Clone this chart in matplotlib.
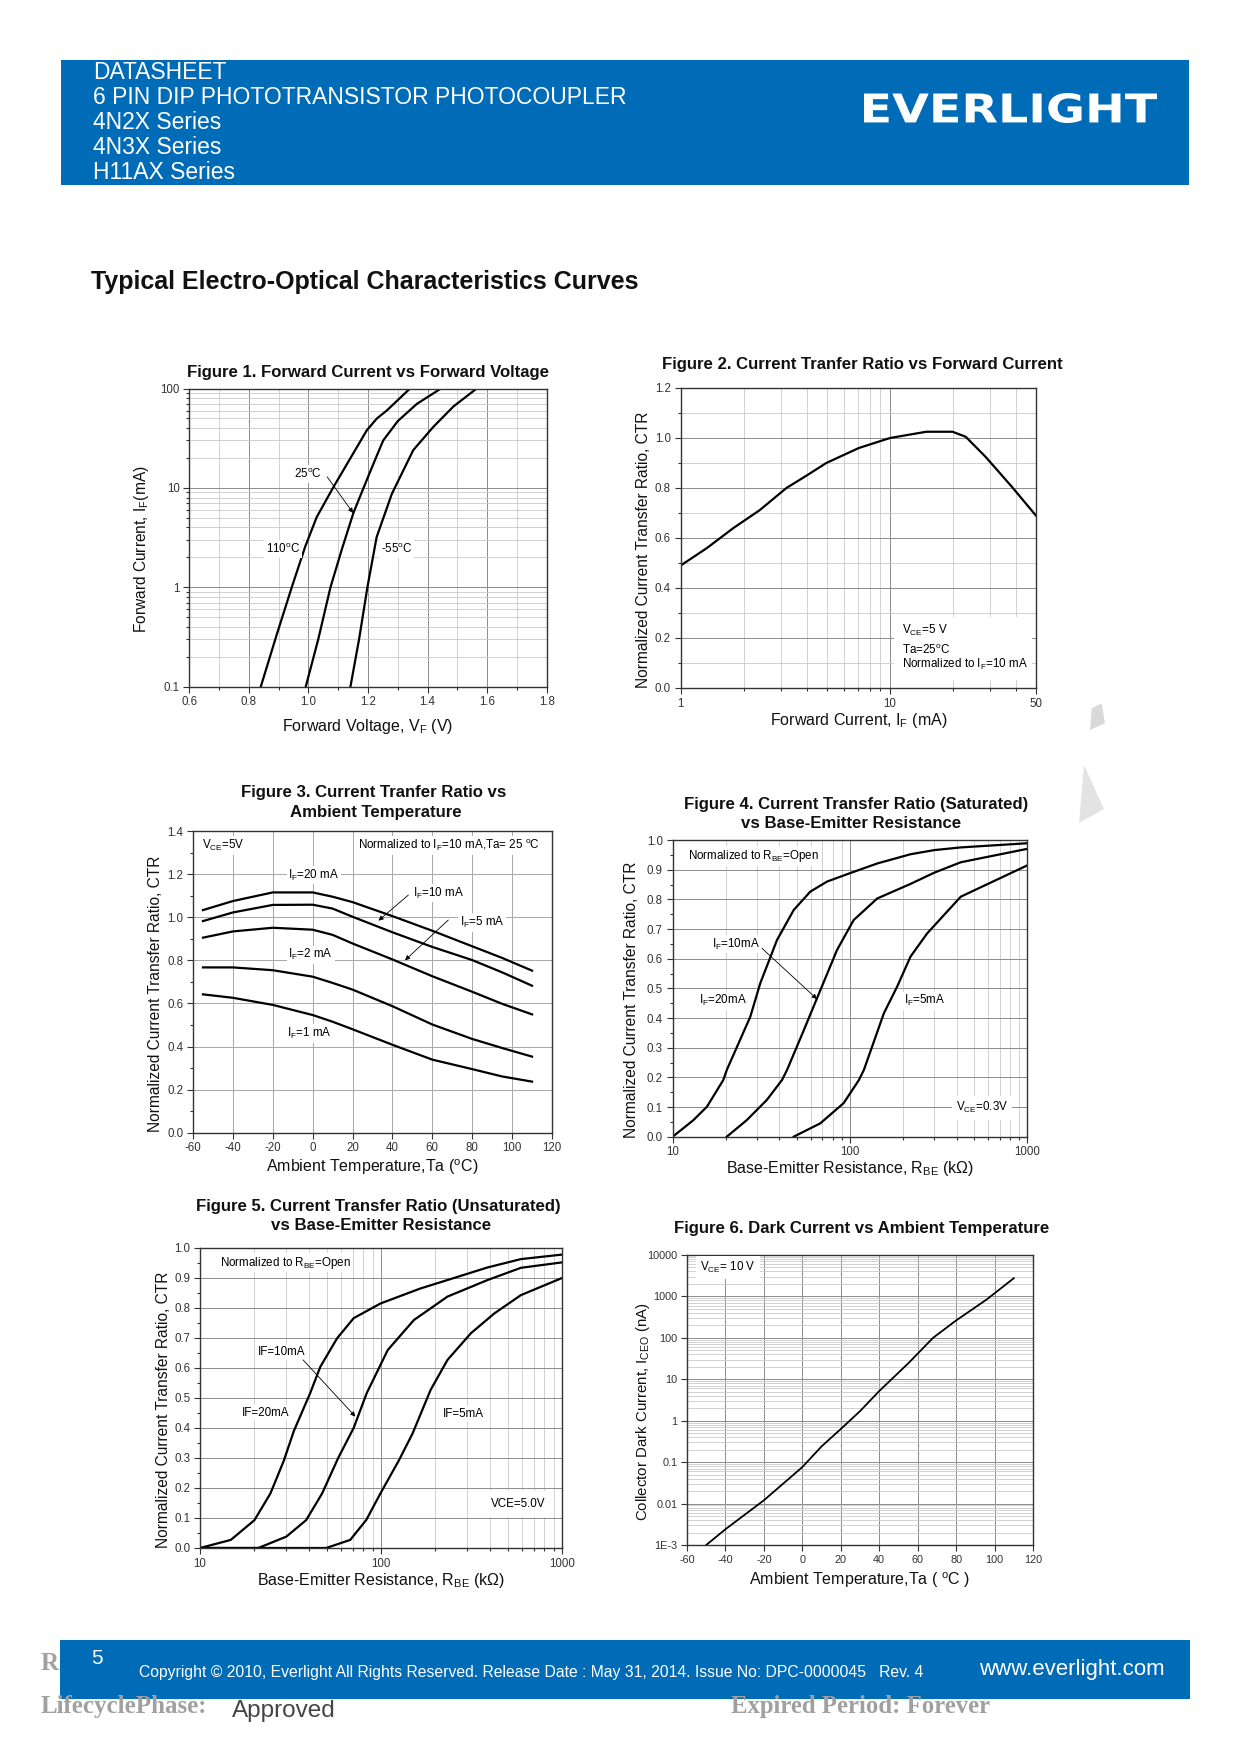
import matplotlib
matplotlib.use('Agg')
import matplotlib.pyplot as plt
import numpy as np
from matplotlib.patches import Rectangle, Polygon, PathPatch
from matplotlib.textpath import TextPath
from matplotlib.font_manager import FontProperties
from matplotlib.transforms import Affine2D
from matplotlib.ticker import FixedLocator, NullFormatter, MultipleLocator, LogLocator

plt.rcParams['font.family'] = ['Liberation Sans', 'DejaVu Sans']
plt.rcParams['mathtext.fontset'] = 'custom'
plt.rcParams['mathtext.rm'] = 'Liberation Sans'
plt.rcParams['mathtext.it'] = 'Liberation Sans:italic'
plt.rcParams['mathtext.bf'] = 'Liberation Sans:bold'
plt.rcParams['mathtext.default'] = 'regular'
plt.rcParams['axes.unicode_minus'] = False

# ---------------- data ----------------
# Fig 1: forward current (mA) vs forward voltage (V)
vf_110 = [0.84, 0.893, 0.944, 0.989, 1.028, 1.084, 1.151, 1.196, 1.23, 1.263, 1.341]
if_110 = [0.1, 0.33, 1.0, 2.56, 5.1, 10.2, 22.4, 38, 50, 60, 100]
vf_25 = [0.991, 1.033, 1.074, 1.112, 1.151, 1.185, 1.22, 1.251, 1.30, 1.364, 1.445]
if_25 = [0.1, 0.3, 1.0, 2.4, 5.6, 10, 18, 30, 47, 70, 100]
vf_m55 = [1.141, 1.170, 1.198, 1.229, 1.28, 1.352, 1.419, 1.487, 1.565]
if_m55 = [0.1, 0.3, 1.0, 3.2, 8.7, 24, 41, 66, 100]

# Fig 2: normalized CTR vs forward current (mA)
if_fig2 = [1, 1.33, 1.78, 2.39, 3.2, 4.0, 4.96, 7.1, 10, 14.9, 19.9, 23.0, 28.6, 38.2, 50]
ctr_fig2 = [0.49, 0.559, 0.639, 0.712, 0.80, 0.85, 0.90, 0.96, 1.00, 1.025, 1.025, 1.005, 0.925, 0.805, 0.688]

# Fig 3: normalized CTR vs ambient temperature
ta_fig3 = [-55, -40, -20, 0, 10, 20, 40, 60, 80, 95, 110]
ctr_if20 = [1.033, 1.075, 1.115, 1.115, 1.095, 1.07, 1.005, 0.937, 0.865, 0.811, 0.752]
ctr_if10 = [0.982, 1.022, 1.057, 1.058, 1.04, 1.002, 0.93, 0.862, 0.801, 0.744, 0.682]
ctr_if5 = [0.905, 0.934, 0.951, 0.942, 0.918, 0.878, 0.804, 0.726, 0.654, 0.598, 0.549]
ctr_if2 = [0.767, 0.767, 0.754, 0.724, 0.695, 0.664, 0.587, 0.502, 0.435, 0.393, 0.353]
ctr_if1 = [0.642, 0.626, 0.593, 0.546, 0.515, 0.48, 0.408, 0.339, 0.295, 0.261, 0.237]

# Fig 4: CTR (saturated) vs base-emitter resistance (kOhm)
rbe4_if20 = [10, 13.1, 15.6, 19.3, 20.2, 27.4, 31.2, 38.8, 48.2, 59.8, 74.4, 100, 143, 220, 300, 423, 1000]
ctr4_if20 = [0, 0.056, 0.101, 0.191, 0.225, 0.404, 0.517, 0.663, 0.764, 0.826, 0.86, 0.888, 0.921, 0.952, 0.966, 0.975, 0.989]
rbe4_if10 = [20.2, 26.2, 34, 41.4, 44.2, 54, 65.2, 84.6, 105, 142.8, 220, 300, 423, 1000]
ctr4_if10 = [0, 0.056, 0.124, 0.191, 0.225, 0.348, 0.466, 0.629, 0.73, 0.803, 0.852, 0.89, 0.925, 0.97]
rbe4_if5 = [48.2, 68.1, 92.2, 112.5, 120, 155.6, 185, 220, 273, 423, 1000]
ctr4_if5 = [0, 0.045, 0.113, 0.191, 0.225, 0.416, 0.506, 0.607, 0.685, 0.809, 0.914]

# Fig 5: CTR (unsaturated) vs base-emitter resistance (kOhm)
rbe5_if20 = [10, 14.8, 20, 24.5, 29, 33, 40.6, 46.2, 57.2, 70.6, 99.3, 165, 253, 387, 593, 1000]
ctr5_if20 = [0, 0.027, 0.093, 0.182, 0.29, 0.39, 0.516, 0.604, 0.699, 0.766, 0.815, 0.865, 0.9, 0.935, 0.963, 0.978]
rbe5_if10 = [10, 21, 30, 38.6, 47.3, 58, 70.6, 83.5, 109, 152, 233, 387, 593, 1000]
ctr5_if10 = [0, 0, 0.038, 0.093, 0.182, 0.30, 0.40, 0.517, 0.66, 0.76, 0.838, 0.893, 0.934, 0.952]
rbe5_if5 = [10, 49.8, 67.6, 82.8, 99.3, 125, 149, 188, 233, 314, 423, 593, 1000]
ctr5_if5 = [0, 0, 0.027, 0.093, 0.182, 0.29, 0.38, 0.527, 0.627, 0.716, 0.782, 0.843, 0.90]

# Fig 6: collector dark current (nA) vs ambient temperature
ta_fig6 = [-50, -40, -20, 0, 10, 20, 30, 40, 55, 68, 80, 96, 110]
iceo_fig6 = [1.0e-3, 2.4e-3, 1.2e-2, 7.6e-2, 0.24, 0.63, 1.7, 5.2, 24, 100, 263, 850, 2750]

header_lines = ['DATASHEET', '6 PIN DIP PHOTOTRANSISTOR PHOTOCOUPLER',
                '4N2X Series', '4N3X Series', 'H11AX Series']
footer_text = ('Copyright \u00a9 2010, Everlight All Rights Reserved. Release Date : May 31, 2014. '
               'Issue No: DPC-0000045   Rev. 4')

# ---------------- page ----------------
W, H = 1240, 1754
BLUE = '#006bb6'
fig = plt.figure(figsize=(W / 100, H / 100), dpi=100)
pg = fig.add_axes([0, 0, 1, 1])
pg.set_xlim(0, W)
pg.set_ylim(H, 0)
pg.axis('off')

pg.add_patch(Rectangle((61, 60), 1128, 125, color=BLUE, lw=0))
for i, s in enumerate(header_lines):
    pg.text(93, 72.5 + 24.9 * i, s, color='white', fontsize=16.5, va='center', ha='left')

# logo, stretched to the box it fills on the page
tp = TextPath((0, 0), 'EVERLIGHT', size=10, prop=FontProperties(family='DejaVu Sans', weight='bold'))
ext = tp.get_extents()
tr = Affine2D().translate(-ext.x0, -ext.y0).scale(293 / ext.width, -30 / ext.height).translate(864, 123)
pg.add_patch(PathPatch(tr.transform_path(tp), color='white', lw=0))

pg.text(91, 282, 'Typical Electro-Optical Characteristics Curves', fontsize=18,
        fontweight='bold', va='center', ha='left', color='#111')

# faint scan marks on the right margin
pg.add_patch(Polygon([(1091.7, 708.3), (1101.7, 703.3), (1105, 723.3), (1090, 730)], color='#d9d9d9', lw=0))
pg.add_patch(Polygon([(1084, 765), (1104, 809), (1079, 823)], color='#e3e3e3', lw=0))

# footer
serif = ['Liberation Serif', 'DejaVu Serif']
pg.text(41, 1663, 'R', fontsize=18, family=serif, fontweight='bold', color='#a0a0a0', va='center')
pg.add_patch(Rectangle((60, 1640), 1130, 59, color=BLUE, lw=0))
pg.text(97, 1659, '5', color='white', fontsize=15, va='center', ha='center')
pg.text(139, 1672, footer_text, color='white', fontsize=11.3, va='center', ha='left')
pg.text(1165, 1670, 'www.everlight.com', color='white', fontsize=16, va='center', ha='right')
pg.text(41, 1707, 'LifecyclePhase:', fontsize=18, family=serif, fontweight='bold', color='#a0a0a0', va='center')
pg.text(232, 1711, 'Approved', fontsize=17.5, color='#454545', va='center')
pg.text(731, 1707, 'Expired Period: Forever', fontsize=17.8, family=serif, fontweight='bold',
        color='#a0a0a0', va='center')

# figure titles
TSZ = 12.1
titles = [((368, 372), 'Figure 1. Forward Current vs Forward Voltage'),
          ((862, 365), 'Figure 2. Current Tranfer Ratio vs Forward Current'),
          ((374, 792), 'Figure 3. Current Tranfer Ratio vs'),
          ((376, 813), 'Ambient Temperature'),
          ((856, 804), 'Figure 4. Current Transfer Ratio (Saturated)'),
          ((851, 824), 'vs Base-Emitter Resistance'),
          ((378, 1206), 'Figure 5. Current Transfer Ratio (Unsaturated)'),
          ((381, 1226), 'vs Base-Emitter Resistance'),
          ((862, 1229), 'Figure 6. Dark Current vs Ambient Temperature')]
for (x, y), s in titles:
    pg.text(x, y, s, fontsize=TSZ, fontweight='bold', ha='center', va='center', color='#111')


def frame(bx):
    x0, y0, x1, y1 = bx
    ax = fig.add_axes([x0 / W, 1 - y1 / H, (x1 - x0) / W, (y1 - y0) / H])
    for sp in ax.spines.values():
        sp.set_color('#333333')
        sp.set_linewidth(1.0)
    ax.set_axisbelow(True)
    ax.tick_params(which='both', colors='#333333', labelcolor='#333333', labelsize=8.3, width=0.8, pad=3)
    ax.tick_params(which='major', length=4, direction='out')
    ax.tick_params(which='minor', length=2.5, direction='out')
    return ax


def axis_labels(ax, bx, xlabel, xl_y, ylabel, yl_x, ysz=11.2):
    x0, y0, x1, y1 = bx
    ax.set_xlabel(xlabel, fontsize=11.5, va='center', color='#111')
    ax.xaxis.set_label_coords(0.5, -(xl_y - y1) / (y1 - y0))
    ax.set_ylabel(ylabel, fontsize=ysz, va='center', color='#111')
    ax.yaxis.set_label_coords((yl_x - x0) / (x1 - x0), 0.46)


GMAJ = dict(color='#8c8c8c', lw=0.7)
GMIN = dict(color='#cacaca', lw=0.6)
CURVE = dict(color='black', lw=1.6, solid_joinstyle='round')
NOTE = 8.4
WBOX = dict(facecolor='white', edgecolor='none', pad=1.2)
ARROW = dict(arrowstyle='-|>', lw=0.6, color='black', mutation_scale=7, shrinkA=0, shrinkB=0)

# ---------------- Figure 1 ----------------
b1 = (189.3, 388.5, 546.7, 686.7)
ax1 = frame(b1)
ax1.set_yscale('log')
ax1.set_xlim(0.6, 1.8)
ax1.set_ylim(0.1, 100)
ax1.set_xticks([0.6, 0.8, 1.0, 1.2, 1.4, 1.6, 1.8], ['0.6', '0.8', '1.0', '1.2', '1.4', '1.6', '1.8'])
ax1.xaxis.set_minor_locator(MultipleLocator(0.1))
ax1.set_yticks([0.1, 1, 10, 100], ['0.1', '1', '10', '100'])
ax1.yaxis.set_minor_locator(LogLocator(base=10, subs=np.arange(2, 10)))
ax1.yaxis.set_minor_formatter(NullFormatter())
ax1.grid(which='major', **GMAJ)
ax1.grid(which='minor', **GMIN)
ax1.plot(vf_110, if_110, **CURVE)
ax1.plot(vf_25, if_25, **CURVE)
ax1.plot(vf_m55, if_m55, **CURVE)
ax1.text(0.999, 13.8, '25$^o$C', fontsize=NOTE, ha='center', va='center', bbox=WBOX)
ax1.text(0.915, 2.43, '110$^o$C', fontsize=NOTE, ha='center', va='center', bbox=WBOX)
ax1.text(1.297, 2.43, '-55$^o$C', fontsize=NOTE, ha='center', va='center', bbox=WBOX)
ax1.annotate('', xy=(1.15, 5.6), xytext=(1.063, 12.9), arrowprops=ARROW)
axis_labels(ax1, b1, 'Forward Voltage, V$_F$ (V)', 726, 'Forward Current, I$_F$(mA)', 141.7)

# ---------------- Figure 2 ----------------
b2 = (680.7, 388, 1036.3, 688)
ax2 = frame(b2)
ax2.set_xscale('log')
ax2.set_xlim(1, 50)
ax2.set_ylim(0, 1.2)
ax2.set_xticks([1, 10, 50], ['1', '10', '50'])
ax2.xaxis.set_minor_locator(FixedLocator([2, 3, 4, 5, 6, 7, 8, 9, 20, 30, 40]))
ax2.xaxis.set_minor_formatter(NullFormatter())
ax2.set_yticks(np.arange(0, 1.21, 0.2), ['0.0', '0.2', '0.4', '0.6', '0.8', '1.0', '1.2'])
ax2.yaxis.set_minor_locator(MultipleLocator(0.1))
ax2.grid(which='major', **GMAJ)
ax2.grid(which='minor', **GMIN)
ax2.add_patch(Rectangle((10.5, 0.032), 37.1, 0.252, facecolor='white', edgecolor='none', zorder=1.5))
ax2.plot(if_fig2, ctr_fig2, **CURVE)
ax2.text(11.45, 0.232, 'V$_{CE}$=5 V', fontsize=NOTE, ha='left', va='center')
ax2.text(11.45, 0.152, 'Ta=25$^o$C', fontsize=NOTE, ha='left', va='center')
ax2.text(11.45, 0.094, 'Normalized to I$_F$=10 mA', fontsize=NOTE, ha='left', va='center')
axis_labels(ax2, b2, 'Forward Current, I$_F$ (mA)', 720, 'Normalized Current Transfer Ratio, CTR', 643)

# ---------------- Figure 3 ----------------
b3 = (193, 831, 552, 1132.7)
ax3 = frame(b3)
ax3.set_xlim(-60, 120)
ax3.set_ylim(0, 1.4)
ax3.set_xticks(np.arange(-60, 121, 20))
ax3.set_yticks(np.arange(0, 1.41, 0.2), ['0.0', '0.2', '0.4', '0.6', '0.8', '1.0', '1.2', '1.4'])
ax3.yaxis.set_minor_locator(MultipleLocator(0.1))
ax3.grid(which='major', color='#a8a8a8', lw=0.7)
for c in (ctr_if20, ctr_if10, ctr_if5, ctr_if2, ctr_if1):
    ax3.plot(ta_fig3, c, **CURVE)
ax3.text(-55.6, 1.333, 'V$_{CE}$=5V', fontsize=NOTE, ha='left', va='center', bbox=WBOX)
ax3.text(22.9, 1.333, 'Normalized to I$_F$=10 mA,Ta= 25 $^o$C', fontsize=NOTE, ha='left', va='center', bbox=WBOX)
ax3.text(-12.2, 1.196, 'I$_F$=20 mA', fontsize=NOTE, ha='left', va='center', bbox=WBOX)
ax3.text(50.5, 1.111, 'I$_F$=10 mA', fontsize=NOTE, ha='left', va='center', bbox=WBOX)
ax3.text(73.9, 0.975, 'I$_F$=5 mA', fontsize=NOTE, ha='left', va='center', bbox=WBOX)
ax3.text(-12.2, 0.825, 'I$_F$=2 mA', fontsize=NOTE, ha='left', va='center', bbox=WBOX)
ax3.text(-13, 0.461, 'I$_F$=1 mA', fontsize=NOTE, ha='left', va='center', bbox=WBOX)
ax3.annotate('', xy=(33, 0.984), xytext=(48, 1.103), arrowprops=ARROW)
ax3.annotate('', xy=(46.3, 0.80), xytext=(68, 0.987), arrowprops=ARROW)
axis_labels(ax3, b3, 'Ambient Temperature,Ta ($^o$C)', 1167, 'Normalized Current Transfer Ratio, CTR', 156)


def rbe_axes(bx):
    ax = frame(bx)
    ax.set_xscale('log')
    ax.set_xlim(10, 1000)
    ax.set_ylim(0, 1.0)
    ax.set_xticks([10, 100, 1000], ['10', '100', '1000'])
    ax.xaxis.set_minor_locator(LogLocator(base=10, subs=np.arange(2, 10)))
    ax.xaxis.set_minor_formatter(NullFormatter())
    ax.set_yticks(np.arange(0, 1.01, 0.1), ['%.1f' % v for v in np.arange(0, 1.01, 0.1)])
    ax.yaxis.set_minor_locator(MultipleLocator(0.05))
    ax.grid(which='major', **GMAJ)
    ax.grid(which='minor', axis='x', **GMIN)
    return ax


# ---------------- Figure 4 ----------------
b4 = (672.7, 840, 1027, 1136.7)
ax4 = rbe_axes(b4)
ax4.plot(rbe4_if20, ctr4_if20, **CURVE)
ax4.plot(rbe4_if10, ctr4_if10, **CURVE)
ax4.plot(rbe4_if5, ctr4_if5, **CURVE)
ax4.text(12.2, 0.946, 'Normalized to R$_{BE}$=Open', fontsize=NOTE, ha='left', va='center', bbox=WBOX)
ax4.text(16.6, 0.649, 'I$_F$=10mA', fontsize=NOTE, ha='left', va='center', bbox=WBOX)
ax4.text(14, 0.458, 'I$_F$=20mA', fontsize=NOTE, ha='left', va='center', bbox=WBOX)
ax4.text(202, 0.458, 'I$_F$=5mA', fontsize=NOTE, ha='left', va='center', bbox=WBOX)
ax4.text(396, 0.097, 'V$_{CE}$=0.3V', fontsize=NOTE, ha='left', va='center',
         bbox=dict(facecolor='white', edgecolor='none', pad=3))
ax4.annotate('', xy=(65.2, 0.464), xytext=(31.9, 0.635), arrowprops=ARROW)
axis_labels(ax4, b4, 'Base-Emitter Resistance, R$_{BE}$ (k\u03a9)', 1168,
            'Normalized Current Transfer Ratio, CTR', 632)

# ---------------- Figure 5 ----------------
b5 = (200, 1248, 562, 1548)
ax5 = rbe_axes(b5)
ax5.plot(rbe5_if20, ctr5_if20, **CURVE)
ax5.plot(rbe5_if10, ctr5_if10, **CURVE)
ax5.plot(rbe5_if5, ctr5_if5, **CURVE)
ax5.text(12.9, 0.951, 'Normalized to R$_{BE}$=Open', fontsize=NOTE, ha='left', va='center', bbox=WBOX)
ax5.text(21, 0.652, 'IF=10mA', fontsize=NOTE, ha='left', va='center', bbox=WBOX)
ax5.text(17, 0.451, 'IF=20mA', fontsize=NOTE, ha='left', va='center', bbox=WBOX)
ax5.text(221, 0.447, 'IF=5mA', fontsize=NOTE, ha='left', va='center', bbox=WBOX)
ax5.text(570, 0.147, 'VCE=5.0V', fontsize=NOTE, ha='center', va='center',
         bbox=dict(facecolor='white', edgecolor='none', pad=5))
ax5.annotate('', xy=(72.2, 0.438), xytext=(37.1, 0.627), arrowprops=ARROW)
axis_labels(ax5, b5, 'Base-Emitter Resistance, R$_{BE}$ (k\u03a9)', 1580,
            'Normalized Current Transfer Ratio, CTR', 163)

# ---------------- Figure 6 ----------------
b6 = (687, 1255, 1033, 1545)
ax6 = frame(b6)
ax6.set_yscale('log')
ax6.set_xlim(-60, 120)
ax6.set_ylim(1e-3, 1e4)
ax6.set_xticks(np.arange(-60, 121, 20))
ax6.set_yticks([1e-3, 1e-2, 0.1, 1, 10, 100, 1000, 10000],
               ['1E-3', '0.01', '0.1', '1', '10', '100', '1000', '10000'])
ax6.yaxis.set_minor_locator(LogLocator(base=10, subs=np.arange(2, 10), numticks=20))
ax6.yaxis.set_minor_formatter(NullFormatter())
ax6.tick_params(which='minor', axis='y', length=0)
ax6.tick_params(labelsize=7.8)
ax6.grid(which='major', **GMAJ)
ax6.grid(which='minor', axis='y', **GMIN)
ax6.plot(ta_fig6, iceo_fig6, color='black', lw=1.3, solid_joinstyle='round')
ax6.text(-53.2, 5000, 'V$_{CE}$= 10 V', fontsize=NOTE, ha='left', va='center',
         bbox=dict(facecolor='white', edgecolor='none', pad=3))
axis_labels(ax6, b6, 'Ambient Temperature,Ta ( $^o$C )', 1580,
            'Collector Dark Current, I$_{CEO}$ (nA)', 643, ysz=10.8)

fig.savefig('out.png', dpi=100)
